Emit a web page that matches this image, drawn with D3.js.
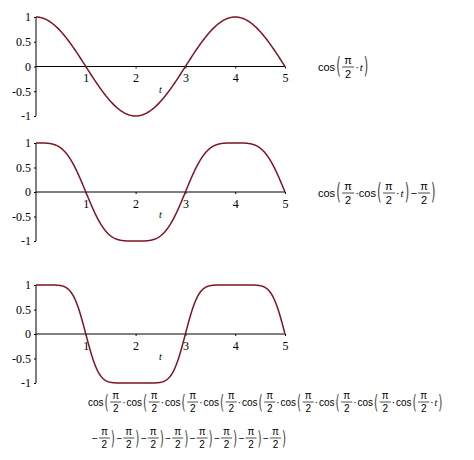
<!DOCTYPE html>
<html><head><meta charset="utf-8">
<script src="https://cdn.jsdelivr.net/npm/d3@7"></script>
<style>body{margin:0;background:#fff}</style></head>
<body><svg id="c" width="474" height="460"></svg>
<script>
const xTicks = [1,2,3,4,5];
const yTicks = [1,0.5,0,-0.5,-1];
const yTickLabels = ["1","0.5","0","-0.5","-1"];
const wrapsPerPanel = [0,1,2];
const tDomain = [0,5];
const panelTops = [17,143,285];
const panelBottoms = [116,241,383];
const curveColor = "#7f1425";

const svg = d3.select("#c");
const x = d3.scaleLinear().domain(tDomain).range([36,285]);
const sampleT = d3.range(0,5.0001,0.01);
function f(t,n){let v=Math.cos(Math.PI/2*t);for(let i=0;i<n;i++)v=Math.cos(Math.PI/2*v-Math.PI/2);return v;}

panelTops.forEach((top,i)=>{
  const y = d3.scaleLinear().domain([-1,1]).range([panelBottoms[i],top]);
  const g = svg.append("g");
  g.append("g").attr("transform",`translate(0,${y(0)})`)
    .call(d3.axisBottom(x).tickValues(xTicks).tickSize(2).tickFormat(d3.format("d")))
    .call(a=>{a.attr("font-family",null);a.select(".domain").attr("d",`M${x(0)},0H${x(5)}`);a.selectAll("text").style("font-family","Liberation Serif").attr("font-size",12).attr("fill","#000").attr("dy","0.9em");});
  g.append("g").attr("transform",`translate(${x(0)},0)`)
    .call(d3.axisLeft(y).tickValues(yTicks).tickSize(2).tickFormat((d,j)=>yTickLabels[j]))
    .call(a=>{a.attr("font-family",null);a.select(".domain").attr("d",`M0,${y(1)}V${y(-1)}`);a.selectAll("text").style("font-family","Liberation Serif").attr("font-size",12).attr("fill","#000");});
  g.append("text").attr("x",x(2.5)).attr("y",y(0)+26).attr("font-family","Liberation Serif")
    .attr("font-style","italic").attr("font-size",10).attr("text-anchor","middle").text("t");
  g.append("path").datum(sampleT).attr("fill","none").attr("stroke",curveColor).attr("stroke-width",1.5)
    .attr("d",d3.line().x(d=>x(d)).y(d=>y(f(d,wrapsPerPanel[i]))));
});

const FF="Liberation Sans, Arial, sans-serif";
function layout(tokens,x0,yc,FS){
  let cx=x0;
  const g=svg.append("g");
  tokens.forEach(tk=>{
    if(tk==="frac"){
      const w=FS+1;
      g.append("text").attr("x",cx+w/2).attr("y",yc-3).attr("text-anchor","middle").attr("font-family",FF).attr("font-size",FS).text("π");
      g.append("line").attr("x1",cx).attr("x2",cx+w).attr("y1",yc).attr("y2",yc).attr("stroke","#000").attr("stroke-width",0.7);
      g.append("text").attr("x",cx+w/2).attr("y",yc+FS).attr("text-anchor","middle").attr("font-family",FF).attr("font-size",FS).text("2");
      cx+=w+1;
    } else if(tk==="("||tk===")"){
      const t=g.append("text").attr("transform",`translate(${cx},${yc+7}) scale(0.7,1.35)`).attr("font-family","DejaVu Sans").attr("font-size",FS*1.5).attr("fill","#444").text(tk);
      cx+=t.node().getComputedTextLength()*0.7+1.5;
    } else {
      const it=tk==="t";
      const t=g.append("text").attr("x",cx).attr("y",yc+4).attr("font-family",it?"Liberation Serif":FF).attr("font-style",it?"italic":"normal").attr("font-size",FS).text(tk);
      cx+=t.node().getComputedTextLength()+1;
    }
  });
}
layout(["cos","(","frac","·","t",")"],318,67,11);
layout(["cos","(","frac","·cos","(","frac","·","t",")","−","frac",")"],318,193,11);
let l1=[]; for(let i=0;i<8;i++) l1.push("cos","(","frac","·"); l1.push("cos","(","frac","·","t",")");
layout(l1,88,402,10);
let l2=[]; for(let i=0;i<8;i++) l2.push(" − ","frac",")");
layout(l2,92,438,10);
</script></body></html>
